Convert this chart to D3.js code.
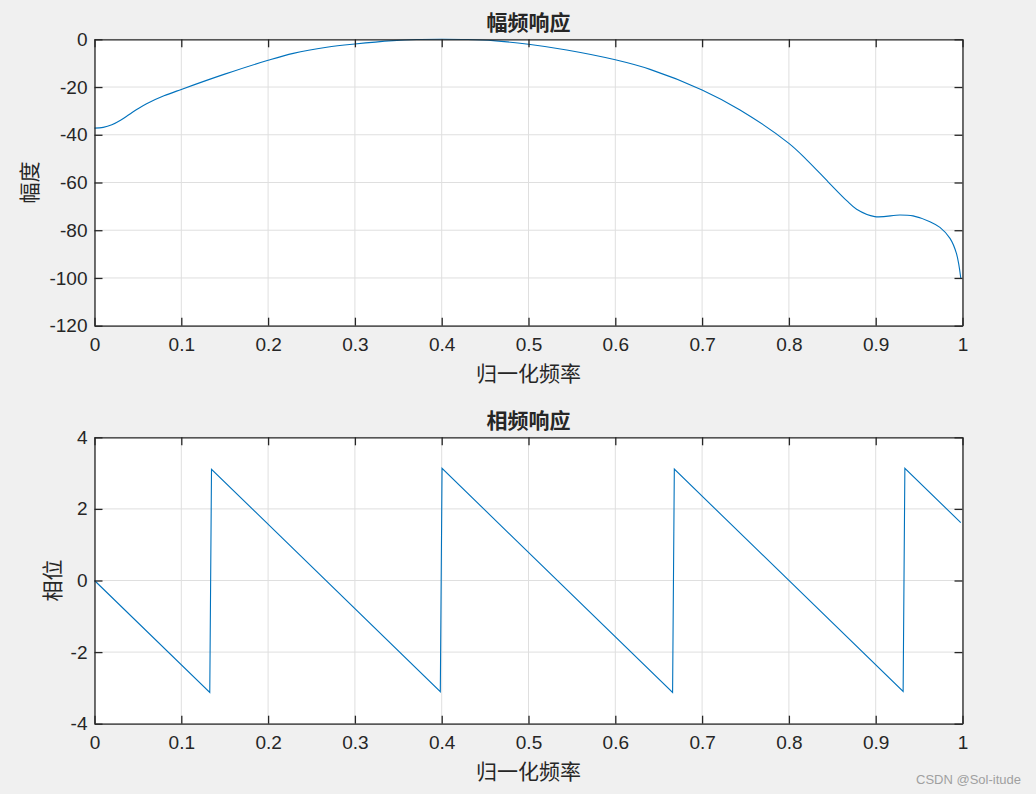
<!DOCTYPE html>
<html><head><meta charset="utf-8">
<script src="https://cdn.jsdelivr.net/npm/d3@7"></script>
<style>
html,body{margin:0;padding:0;background:#f0f0f0;}
svg{display:block;}
text{font-family:"Liberation Sans","Noto Sans CJK SC",Arial,sans-serif;fill:#262626;}
.cjk{font-family:"Noto Sans CJK SC","Liberation Sans",sans-serif;}
</style></head>
<body>
<svg id="chart" width="1036" height="794"></svg>
<script>
// ---- data ----
const xTicks = [0, 0.1, 0.2, 0.3, 0.4, 0.5, 0.6, 0.7, 0.8, 0.9, 1];
const magTicks = [0, -20, -40, -60, -80, -100, -120];
const phaseTicks = [4, 2, 0, -2, -4];

const magFreq = [0, 0.01, 0.02, 0.03, 0.04, 0.05, 0.06, 0.08, 0.1, 0.15, 0.2, 0.229, 0.2675, 0.3, 0.344, 0.371, 0.4, 0.43, 0.4595, 0.5, 0.544, 0.6, 0.64, 0.7, 0.7437, 0.8, 0.8205, 0.8454, 0.8666, 0.878, 0.899, 0.928, 0.943, 0.9625, 0.974, 0.9856, 0.993, 0.998];
const magDb   = [-37.2, -36.9, -35.8, -33.9, -31.5, -29.1, -27.0, -23.7, -21.0, -14.6, -8.8, -5.9, -3.35, -1.97, -0.57, -0.1, 0, -0.1, -0.57, -2.1, -4.5, -8.6, -12.6, -21.2, -29.6, -43.6, -50.5, -59.8, -67.6, -71.2, -74.3, -73.6, -74.0, -76.4, -78.8, -83.4, -89.7, -100.0];

const phaseFreq = [0, 0.1328, 0.1348, 0.3984, 0.4004, 0.6660, 0.6680, 0.9316, 0.9336, 0.9980];
const phaseRad  = [0, -3.129, 3.108, -3.105, 3.132, -3.127, 3.111, -3.101, 3.136, 1.616];

const titles = ["幅频响应", "相频响应"];
const yLabels = ["幅度", "相位"];
const xLabel = "归一化频率";

// ---- layout ----
const svg = d3.select("#chart");
const left = 94.5, right = 962.5;
const panels = [
  {top: 39.3, bottom: 325.7, domain: [-120, 0], ticks: magTicks, xs: magFreq, ys: magDb, ylx: 30, curve: d3.curveCatmullRom.alpha(0.5)},
  {top: 437.3, bottom: 723.7, domain: [-4, 4], ticks: phaseTicks, xs: phaseFreq, ys: phaseRad, ylx: 53, curve: d3.curveLinear}
];
const tickLen = 8;
const axisColor = "#262626";
const fmt = d => String(d); // plain hyphen-minus like MATLAB

panels.forEach((p, i) => {
  const x = d3.scaleLinear().domain([0, 1]).range([left, right]);
  const y = d3.scaleLinear().domain(p.domain).range([p.bottom, p.top]);
  const g = svg.append("g");
  g.append("rect").attr("x", left).attr("y", p.top).attr("width", right - left).attr("height", p.bottom - p.top).attr("fill", "#fff");

  // grid
  g.append("g").selectAll("line").data(xTicks).join("line")
    .attr("x1", d => x(d)).attr("x2", d => x(d)).attr("y1", p.top).attr("y2", p.bottom)
    .attr("stroke", "#dfdfdf").attr("stroke-width", 1);
  g.append("g").selectAll("line").data(p.ticks).join("line")
    .attr("y1", d => y(d)).attr("y2", d => y(d)).attr("x1", left).attr("x2", right)
    .attr("stroke", "#dfdfdf").attr("stroke-width", 1);

  // data line
  const pts = p.xs.map((v, k) => [v, p.ys[k]]);
  g.append("path").datum(pts)
    .attr("d", d3.line().x(d => x(d[0])).y(d => y(d[1])).curve(p.curve))
    .attr("fill", "none").attr("stroke", "#0072BD").attr("stroke-width", 1.1);

  // axes (ticks inside, box)
  const axB = d3.axisBottom(x).tickValues(xTicks).tickSizeInner(-tickLen).tickSizeOuter(0).tickPadding(12).tickFormat(fmt);
  const axT = d3.axisTop(x).tickValues(xTicks).tickSizeInner(-tickLen).tickSizeOuter(0).tickFormat("");
  const axL = d3.axisLeft(y).tickValues(p.ticks).tickSizeInner(-tickLen).tickSizeOuter(0).tickPadding(7).tickFormat(fmt);
  const axR = d3.axisRight(y).tickValues(p.ticks).tickSizeInner(-tickLen).tickSizeOuter(0).tickFormat("");
  [[axB, `translate(0,${p.bottom})`], [axT, `translate(0,${p.top})`], [axL, `translate(${left},0)`], [axR, `translate(${right},0)`]].forEach(([ax, tr]) => {
    const a = g.append("g").attr("transform", tr).call(ax);
    a.select(".domain").attr("stroke", axisColor).attr("stroke-width", 1.3);
    a.selectAll(".tick line").attr("stroke", axisColor).attr("stroke-width", 1.3);
    a.selectAll(".tick text").attr("fill", axisColor).style("font-size", "19px").style("font-family", "'Liberation Sans', Arial, sans-serif");
  });

  // title
  g.append("text").attr("class", "cjk").attr("x", (left + right) / 2).attr("y", p.top - 9)
    .attr("text-anchor", "middle").style("font-size", "21px").style("font-weight", "bold")
    .attr("fill", "#000").text(titles[i]);
  // x label
  g.append("text").attr("class", "cjk").attr("x", (left + right) / 2).attr("y", p.bottom + 55)
    .attr("text-anchor", "middle").style("font-size", "21px").text(xLabel);
  // y label
  const cy = (p.top + p.bottom) / 2;
  g.append("text").attr("class", "cjk").attr("transform", `translate(${p.ylx},${cy}) rotate(-90)`)
    .attr("text-anchor", "middle").attr("dy", "0.35em").style("font-size", "21px").text(yLabels[i]);
});

// watermark
svg.append("text").attr("x", 1021).attr("y", 784).attr("text-anchor", "end")
  .style("font-size", "13px").style("fill", "#a0a0a0").text("CSDN @Sol-itude");
</script>
</body></html>
